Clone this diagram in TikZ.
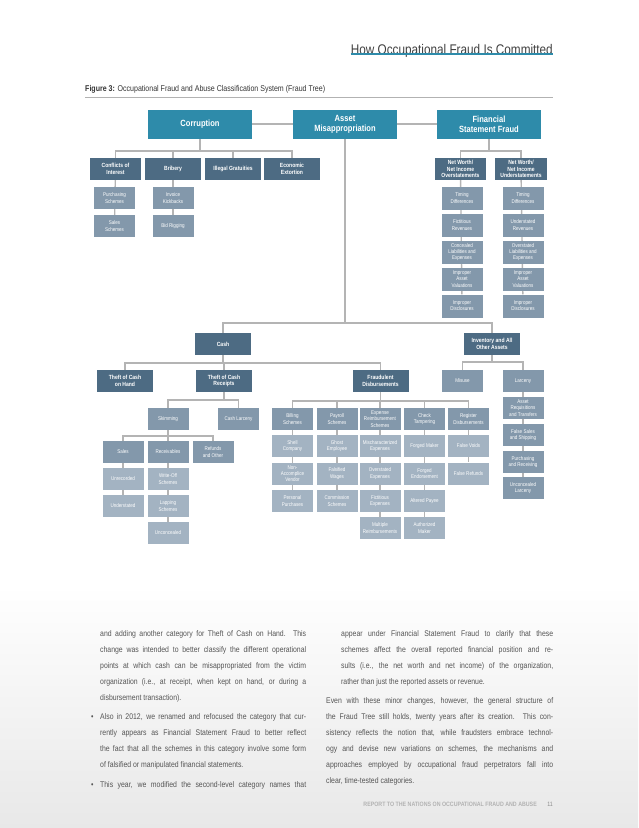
\documentclass[tikz,border=0pt]{standalone}
\usepackage{fontspec}
\setmainfont[FakeStretch=0.84]{Liberation Sans}
\usetikzlibrary{calc}
\pgfdeclarelayer{bg}
\pgfsetlayers{bg,main}
\definecolor{teal}{HTML}{2E8BAA}
\definecolor{dk}{HTML}{4D6B83}
\definecolor{md}{HTML}{8398AB}
\definecolor{lt}{HTML}{A3B3C2}
\definecolor{ln}{HTML}{B4B4B4}
\definecolor{tx}{HTML}{555555}
\tikzset{
 box/.style={align=center,text=white,inner sep=1pt,minimum height=22pt},
 top/.style={box,fill=teal,font=\fontsize{9}{10}\selectfont\bfseries,minimum width=104pt,minimum height=29pt},
 dark/.style={box,fill=dk,font=\fontsize{6}{6.8}\selectfont\bfseries,minimum width=56pt},
 mid/.style={box,fill=md,font=\fontsize{5.4}{6.2}\selectfont,minimum width=41pt},
 leaf/.style={box,fill=lt,font=\fontsize{5.4}{6.2}\selectfont,minimum width=41pt},
 conn/.style={draw=ln,line width=1.4pt},
 bt/.style={anchor=base west,inner sep=0pt,text=tx,font=\fontsize{8.2}{9}\selectfont},
}
\newcommand\jl[4]{\node[bt] at (#1,#2) {\makebox[#3pt][s]{#4}};}
\newcommand\pl[3]{\node[bt] at (#1,#2) {#3};}
\newcommand\treeconn[3]{\path (0,#2) coordinate (tmpbus);
 \foreach \c in {#3} {\draw[conn] (#1.south) -- (#1.south |- tmpbus) -| (\c.north);}}
\begin{document}
\begin{tikzpicture}[x=1pt,y=-1pt]
\useasboundingbox (0,0) rectangle (638,828);
\begin{pgfonlayer}{bg}
\shade[top color=white,bottom color=black!9] (0,585) rectangle (638,828);
\end{pgfonlayer}
% header
\node[anchor=base east,inner sep=0pt,text=black!75,font=\fontsize{14}{14}\selectfont] (title) at (553,54) {How Occupational Fraud Is Committed};
\draw[teal,line width=2.2pt] (title.south west) ++(0,-3.5) coordinate (ul) -- (ul -| title.east);
\node[anchor=base west,inner sep=0pt,text=black!80,font=\fontsize{8.4}{9}\selectfont] (fig) at (85,91) {\textbf{Figure 3:} Occupational Fraud and Abuse Classification System (Fraud Tree)};
\draw[black!30,line width=0.5pt] (85,97) -- (553,97);
% top
\node[top] (cor) at (200,124) {Corruption};
\node[top] (am) at (345,124) {Asset\\Misappropriation};
\node[top] (fsf) at (489,124) {Financial\\Statement Fraud};
% corruption
\node[dark,minimum width=51pt] (coi) at (115.5,169) {Conflicts of\\Interest};
\node[dark] (bri) at (173,169) {Bribery};
\node[dark] (ill) at (233,169) {Illegal Gratuities};
\node[dark] (eco) at (292,169) {Economic\\Extortion};
\node[mid] (ps) at (114.5,198) {Purchasing\\Schemes};
\node[mid] (ss) at (114.5,226) {Sales\\Schemes};
\node[mid] (ik) at (173,198) {Invoice\\Kickbacks};
\node[mid] (br) at (173,226) {Bid Rigging};
% FSF
\node[dark,minimum width=51pt] (nwo) at (460.5,169) {Net Worth/\\Net Income\\Overstatements};
\node[dark,minimum width=52pt] (nwu) at (521,169) {Net Worth/\\Net Income\\Understatements};
\foreach \n/\y/\t in {a/198/{Timing\\Differences},b/225/{Fictitious\\Revenues},c/252/{Concealed\\Liabilities and\\Expenses},d/279/{Improper\\Asset\\Valuations},e/306/{Improper\\Disclosures}}
 \node[mid,minimum height=23pt] (o\n) at (462,\y) {\t};
\foreach \n/\y/\t in {a/198/{Timing\\Differences},b/225/{Understated\\Revenues},c/252/{Overstated\\Liabilities and\\Expenses},d/279/{Improper\\Asset\\Valuations},e/306/{Improper\\Disclosures}}
 \node[mid,minimum height=23pt] (u\n) at (523,\y) {\t};
% asset misappropriation
\node[dark] (cash) at (223,344) {Cash};
\node[dark] (inv) at (492,344) {Inventory and All\\Other Assets};
\node[dark] (toh) at (125,381) {Theft of Cash\\on Hand};
\node[dark] (tcr) at (224,381) {Theft of Cash\\Receipts};
\node[dark] (fd) at (380.5,381) {Fraudulent\\Disbursements};
\node[mid] (mis) at (462.5,381) {Misuse};
\node[mid] (lar) at (523,381) {Larceny};
\node[mid] (la) at (523,408) {Asset\\Requisitions\\and Transfers};
\node[mid] (lb) at (523,435) {False Sales\\and Shipping};
\node[mid] (lc) at (523,462) {Purchasing\\and Receiving};
\node[mid] (ld) at (523,488) {Unconcealed\\Larceny};
\node[mid] (ski) at (168,419) {Skimming};
\node[mid] (cl) at (238.5,419) {Cash Larceny};
\node[mid] (sal) at (123,452) {Sales};
\node[mid] (rec) at (168,452) {Receivables};
\node[mid] (ref) at (213,452) {Refunds\\and Other};
\node[leaf] (unr) at (123,479) {Unrecorded};
\node[leaf] (und) at (123,506) {Understated};
\node[leaf] (wo) at (168,479) {Write-Off\\Schemes};
\node[leaf] (lap) at (168,506) {Lapping\\Schemes};
\node[leaf] (unc) at (168,533) {Unconcealed};
\node[mid] (bil) at (292.5,419) {Billing\\Schemes};
\node[mid] (pay) at (337,419) {Payroll\\Schemes};
\node[mid] (exp) at (380,419) {Expense\\Reimbursement\\Schemes};
\node[mid] (chk) at (424.5,419) {Check\\Tampering};
\node[mid] (reg) at (468.5,419) {Register\\Disbursements};
\node[leaf] (b1) at (292.5,446) {Shell\\Company};
\node[leaf] (b2) at (292.5,473.5) {Non-\\Accomplice\\Vendor};
\node[leaf] (b3) at (292.5,501) {Personal\\Purchases};
\node[leaf] (p1) at (337,446) {Ghost\\Employee};
\node[leaf] (p2) at (337,473.5) {Falsified\\Wages};
\node[leaf] (p3) at (337,501) {Commission\\Schemes};
\node[leaf] (e1) at (380,446) {Mischaracterized\\Expenses};
\node[leaf] (e2) at (380,473.5) {Overstated\\Expenses};
\node[leaf] (e3) at (380,501) {Fictitious\\Expenses};
\node[leaf] (e4) at (380,528) {Multiple\\Reimbursements};
\node[leaf] (c1) at (424.5,446) {Forged Maker};
\node[leaf] (c2) at (424.5,473.5) {Forged\\Endorsement};
\node[leaf] (c3) at (424.5,501) {Altered Payee};
\node[leaf] (c4) at (424.5,528) {Authorized\\Maker};
\node[leaf] (r1) at (468.5,446) {False Voids};
\node[leaf] (r2) at (468.5,473.5) {False Refunds};
% connectors
\begin{pgfonlayer}{bg}
\draw[conn] (cor) -- (am) -- (fsf);
\treeconn{cor}{151}{coi,bri,ill,eco}
\treeconn{fsf}{151}{nwo,nwu}
\treeconn{am}{323}{cash,inv}
\treeconn{cash}{363}{toh,tcr,fd}
\treeconn{inv}{362}{mis,lar}
\treeconn{tcr}{400}{ski,cl}
\treeconn{fd}{401}{bil,pay,exp,chk,reg}
\treeconn{ski}{436}{sal,rec,ref}
\draw[conn] (coi) -- (ss);
\draw[conn] (bri) -- (br);
\draw[conn] (nwo) -- (oe);
\draw[conn] (nwu) -- (ue);
\draw[conn] (lar) -- (ld);
\draw[conn] (sal) -- (und);
\draw[conn] (rec) -- (unc);
\draw[conn] (bil) -- (b3);
\draw[conn] (pay) -- (p3);
\draw[conn] (exp) -- (e4);
\draw[conn] (chk) -- (c4);
\draw[conn] (reg) -- (r2);
\end{pgfonlayer}
% body text
\jl{100}{636}{206}{and adding another category for Theft of Cash on Hand. This}
\jl{100}{652}{206}{change was intended to better classify the different operational}
\jl{100}{668}{206}{points at which cash can be misappropriated from the victim}
\jl{100}{684}{206}{organization (i.e., at receipt, when kept on hand, or during a}
\pl{100}{700}{disbursement transaction).}
\pl{91}{719}{•}
\jl{100}{719}{206}{Also in 2012, we renamed and refocused the category that cur-}
\jl{100}{735}{206}{rently appears as Financial Statement Fraud to better reflect}
\jl{100}{751}{206}{the fact that all the schemes in this category involve some form}
\pl{100}{767}{of falsified or manipulated financial statements.}
\pl{91}{787}{•}
\jl{100}{787}{206}{This year, we modified the second-level category names that}
\jl{341}{636}{212}{appear under Financial Statement Fraud to clarify that these}
\jl{341}{652}{212}{schemes affect the overall reported financial position and re-}
\jl{341}{668}{212}{sults (i.e., the net worth and net income) of the organization,}
\pl{341}{684}{rather than just the reported assets or revenue.}
\jl{326}{703}{227}{Even with these minor changes, however, the general structure of}
\jl{326}{719}{227}{the Fraud Tree still holds, twenty years after its creation. This con-}
\jl{326}{735}{227}{sistency reflects the notion that, while fraudsters embrace technol-}
\jl{326}{751}{227}{ogy and devise new variations on schemes, the mechanisms and}
\jl{326}{767}{227}{approaches employed by occupational fraud perpetrators fall into}
\pl{326}{783}{clear, time-tested categories.}
% footer
\node[anchor=base east,inner sep=0pt,text=black!30,font=\fontsize{6.3}{7}\selectfont\bfseries] (foot) at (537,806) {REPORT TO THE NATIONS ON OCCUPATIONAL FRAUD AND ABUSE};
\node[anchor=base east,inner sep=0pt,text=black!45,font=\fontsize{6.3}{7}\selectfont] (pg) at (553,806) {11};
\end{tikzpicture}
\end{document}
